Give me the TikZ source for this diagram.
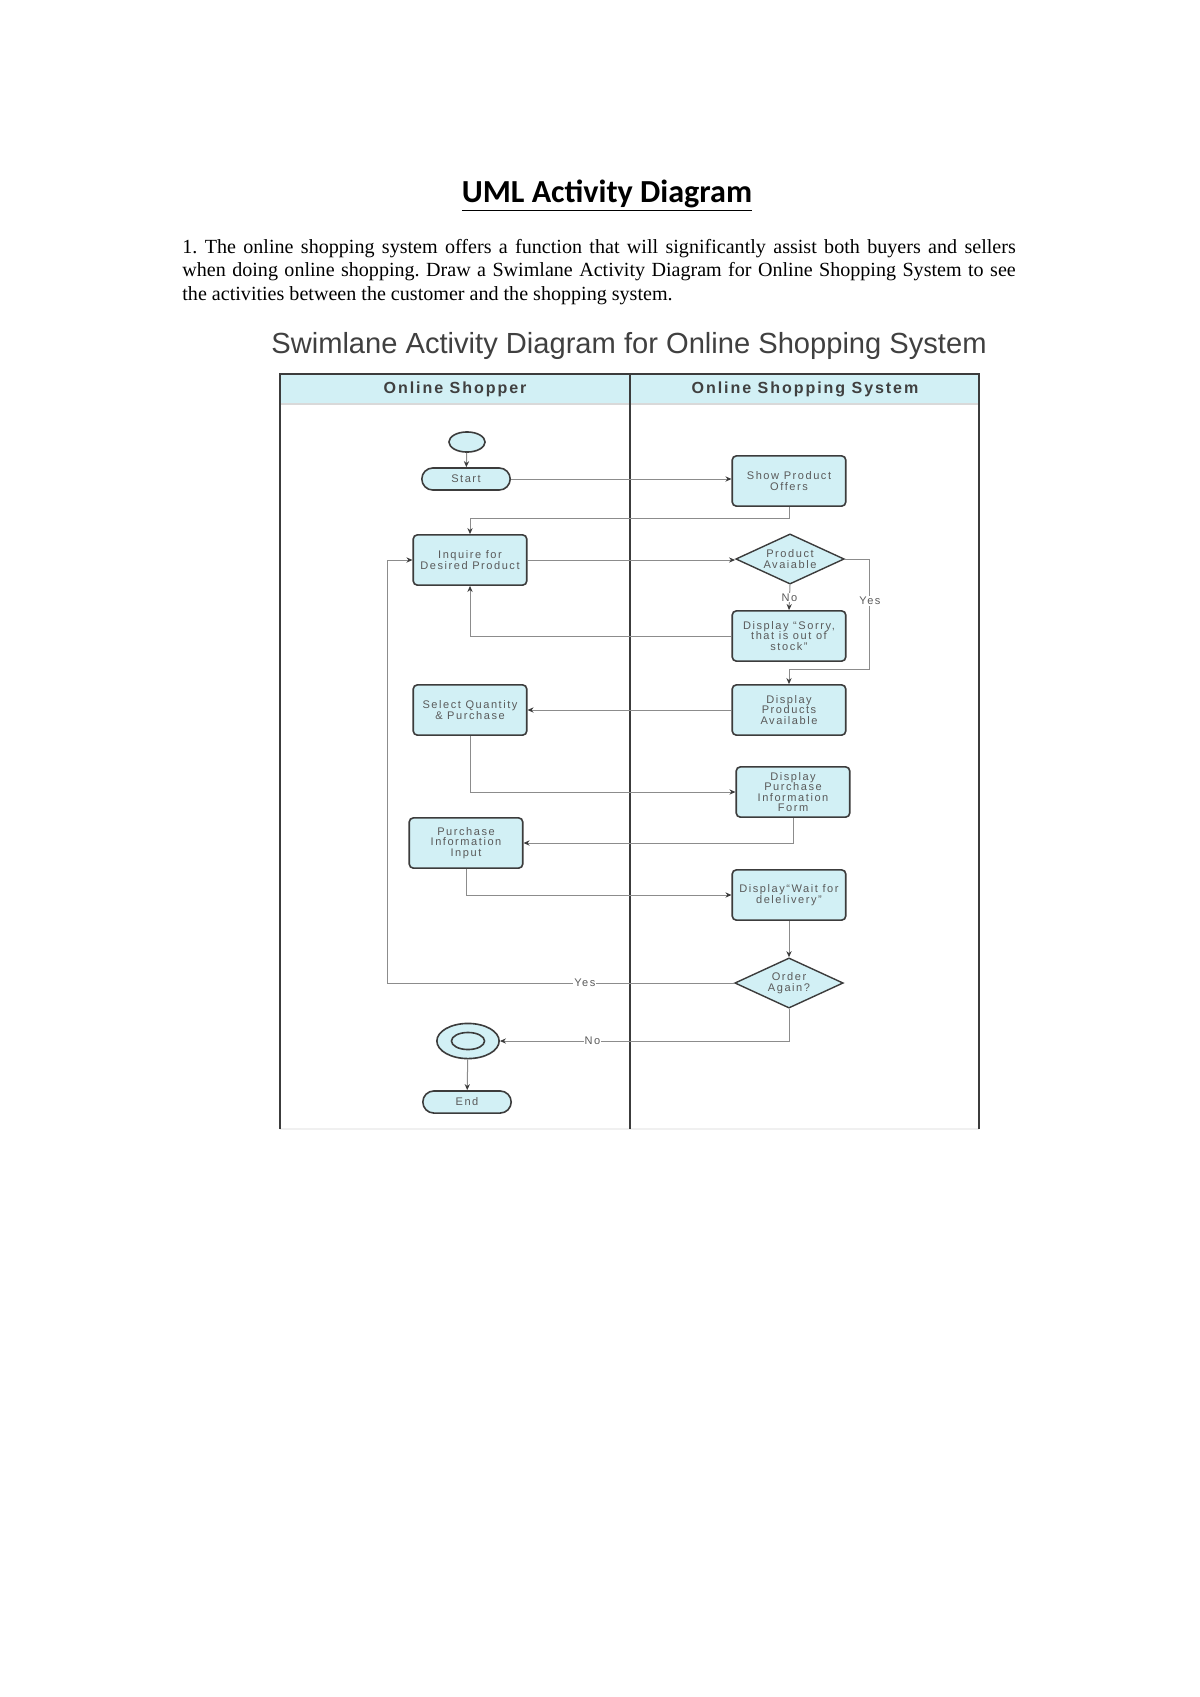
\documentclass[tikz,border=0pt]{standalone}
\usepackage{fontspec}
\setmainfont{Liberation Serif}
\newfontfamily\bodyfont{Liberation Serif}
\newfontfamily\titlefont{Carlito}
\newfontfamily\diagfont[LetterSpace=14]{Liberation Sans}
\newfontfamily\lanefont[LetterSpace=12]{Liberation Sans}
\newfontfamily\capfont{Liberation Sans}
\usetikzlibrary{arrows.meta,shapes.geometric,shapes.misc}

\definecolor{lanecyan}{HTML}{D2F0F5}
\definecolor{boxline}{HTML}{3C3C3C}
\definecolor{wiregray}{HTML}{8C8C8C}
\definecolor{textgray}{HTML}{5A5A5A}

\newcommand\nodetext{\diagfont\fontsize{5.5}{5.2}\selectfont}
\frenchspacing

\tikzset{
  actbox/.style={draw=boxline, line width=0.8pt, fill=lanecyan, rounded corners=2pt,
    minimum width=56.5pt, minimum height=25pt, inner sep=1pt, align=center,
    font=\nodetext, text=textgray},
  decision/.style={diamond, aspect=2.2, draw=boxline, line width=0.7pt, fill=lanecyan,
    minimum width=54pt, minimum height=25pt, inner sep=0pt, align=center,
    font=\nodetext, text=textgray},
  terminal/.style={rounded rectangle, draw=boxline, line width=0.8pt, fill=lanecyan,
    minimum width=46pt, minimum height=11pt, inner sep=1pt,
    font=\nodetext, text=textgray},
  wire/.style={draw=wiregray, line width=0.5pt},
  wirelabel/.style={fill=white, inner sep=0.5pt, font=\nodetext, text=textgray}
}

\begin{document}
\begin{tikzpicture}[x=0.0175cm, y=-0.0175cm, >={Stealth[length=3pt,width=2.6pt,color=boxline]}]
    \useasboundingbox (0,0) rectangle (1200,1697);
    \fill[white] (0,0) rectangle (1200,1697);
    % heading and question text
    \node (title) at (607,196) {\titlefont\bfseries\fontsize{16}{19}\selectfont\underline{UML Activity Diagram}};
    \node [anchor=base west, inner sep=0] (line1) at (182,253) {\bodyfont\fontsize{10}{12}\selectfont\makebox[415pt][s]{1. The online shopping system offers a function that will significantly assist both buyers and sellers}};
    \node [anchor=base west, inner sep=0] (line2) at (182,276) {\bodyfont\fontsize{10}{12}\selectfont\makebox[415pt][s]{when doing online shopping. Draw a Swimlane Activity Diagram for Online Shopping System to see}};
    \node [anchor=base west, inner sep=0] (line3) at (182,300) {\bodyfont\fontsize{10}{12}\selectfont the activities between the customer and the shopping system.};
    \node [anchor=base, inner sep=0, text=black!75] (caption) at (629,353) {\capfont\fontsize{14.5}{17}\selectfont Swimlane Activity Diagram for Online Shopping System};
    % swimlanes
    \fill[lanecyan] (280,374) rectangle (979,404);
    \draw[black!15, line width=0.8pt] (280,404)--(979,404);
    \draw[black!6, line width=0.8pt] (280,1129)--(979,1129);
    \draw[boxline, line width=1pt] (280,1129)--(280,374)--(979,374)--(979,1129);
    \draw[boxline, line width=1pt] (630,374)--(630,1129);
    \node [text=black!75] (shopperlane) at (455,389) {\lanefont\bfseries\fontsize{8}{10}\selectfont Online Shopper};
    \node [text=black!75] (systemlane) at (805,389) {\lanefont\bfseries\fontsize{8}{10}\selectfont Online Shopping System};
    % activities
    \node [ellipse, draw=boxline, line width=0.8pt, fill=lanecyan, minimum width=18pt, minimum height=10pt, inner sep=0] (init) at (467,442) {};
    \node [terminal] (start) at (466,479) {Start};
    \node [actbox] (offers) at (789,481) {Show Product\\Offers};
    \node [actbox] (inquire) at (470,560) {Inquire for\\Desired Product};
    \node [decision] (avail) at (790,559) {Product\\Avaiable};
    \node [actbox] (sorry) at (789,636) {Display “Sorry,\\that is out of\\stock”};
    \node [actbox] (select) at (470,710) {Select Quantity\\\& Purchase};
    \node [actbox] (products) at (789,710) {Display\\Products\\Available};
    \node [actbox] (purchform) at (793,792) {Display\\Purchase\\Information\\Form};
    \node [actbox] (input) at (466,843) {Purchase\\Information\\Input};
    \node [actbox] (wait) at (789,895) {Display“Wait for\\delelivery”};
    \node [decision] (again) at (789,983) {Order\\Again?};
    \node [ellipse, draw=boxline, line width=0.8pt, fill=lanecyan, minimum width=31pt, minimum height=17.5pt, inner sep=0] (final) at (468,1041) {};
    \node [ellipse, draw=boxline, line width=0.8pt, minimum width=16.5pt, minimum height=8.5pt, inner sep=0] (finalin) at (final) {};
    \node [terminal] (end) at (467,1102) {End};
    \coordinate (loopx) at (387,0);
    % flows
    \draw [wire,->] (init) -- (start);
    \draw [wire,->] (start.east) -- (start.east -| offers.west);
    \draw [wire,->] (offers.south) -- ++(0,12) -| (inquire.north);
    \draw [wire,->] (inquire.east) -- (inquire.east -| avail.west);
    \draw [wire,->] (avail.south) -- node [wirelabel] {No} (sorry.north);
    \draw [wire,->] (sorry.west) -| (inquire.south);
    \draw [wire,->] (avail.east) -- ++(25,0) -- node [wirelabel, pos=0.38] {Yes} ++(0,110) -| (products.north);
    \draw [wire,->] (products.west) -- (select.east);
    \draw [wire,->] (select.south) |- (purchform.west);
    \draw [wire,->] (purchform.south) |- (input.east);
    \draw [wire,->] (input.south) |- (wait.west);
    \draw [wire,->] (wait.south) -- (again.north);
    \draw [wire,->] (again.west) -- node [wirelabel, pos=0.43] {Yes} (again.west -| loopx) |- (inquire.west);
    \draw [wire,->] (again.south) |- node [wirelabel, pos=0.84] {No} (final.east);
    \draw [wire,->] (final) -- (end);
\end{tikzpicture}
\end{document}
